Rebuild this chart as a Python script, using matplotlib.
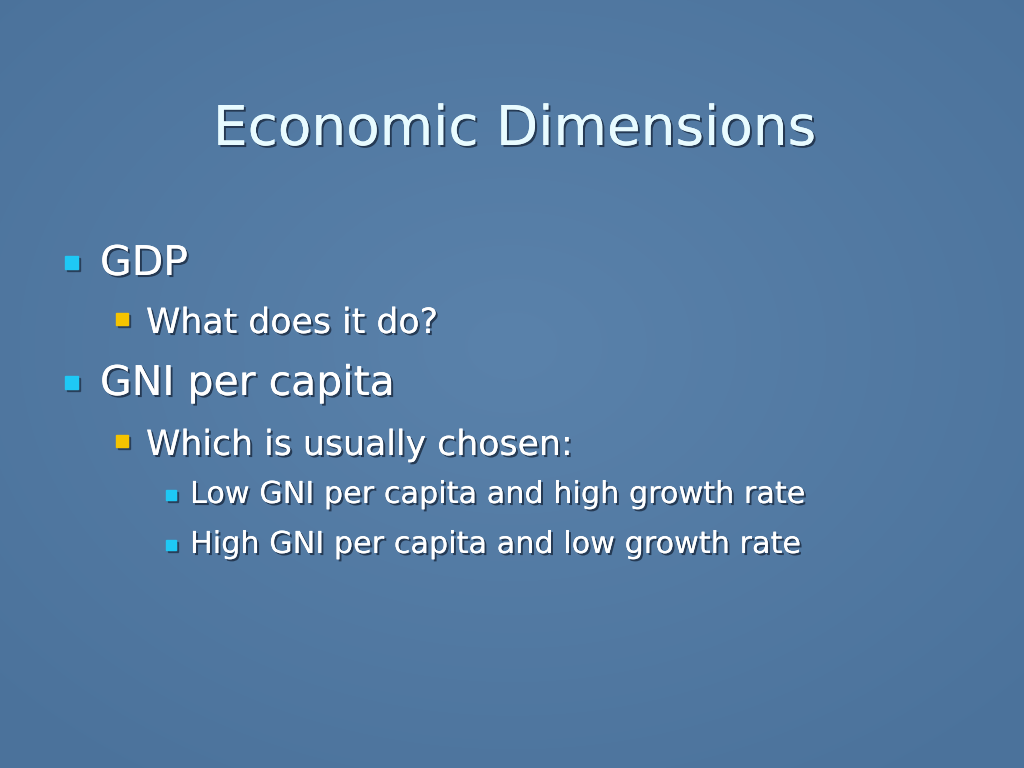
import numpy as np
import matplotlib.pyplot as plt
import matplotlib.patheffects as pe

W, H = 1024, 768

title = "Economic Dimensions"
# (level, text) for each bullet line
bullet_levels = [1, 2, 1, 2, 3, 3]
bullet_texts = [
    "GDP",
    "What does it do?",
    "GNI per capita",
    "Which is usually chosen:",
    "Low GNI per capita and high growth rate",
    "High GNI per capita and low growth rate",
]
bullet_baselines = [275, 333, 395, 455, 503, 553]

# per-level style: text x, font size, marker x, marker size, marker colour
text_x = {1: 100, 2: 146, 3: 190}
font_pt = {1: 29.5, 2: 25, 3: 21.8}
mark_x = {1: 65, 2: 116, 3: 166}
mark_size = {1: 13, 2: 12, 3: 10}
mark_color = {1: "#1ec8f5", 2: "#f5c400", 3: "#1ec8f5"}

fig = plt.figure(figsize=(W / 100, H / 100), dpi=100)
ax = fig.add_axes([0, 0, 1, 1])
ax.set_xlim(0, W)
ax.set_ylim(H, 0)
ax.axis("off")

# background: soft blue, a bit lighter towards the middle
yy, xx = np.mgrid[0:H, 0:W]
r = np.sqrt(((xx - W * 0.5) / W) ** 2 + ((yy - H * 0.45) / H) ** 2)
t = np.clip(r / 0.7, 0, 1)[..., None]
c_in = np.array([0x5a, 0x82, 0xab]) / 255
c_out = np.array([0x4b, 0x72, 0x9b]) / 255
bg = c_in * (1 - t) + c_out * t
ax.imshow(bg, extent=[0, W, H, 0], aspect="auto", zorder=0)

shadow = [pe.withSimplePatchShadow(offset=(1.5, -1.5), shadow_rgbFace="#1a2a40",
                                   alpha=0.8), pe.Normal()]

ax.text(213, 145, title, fontsize=39.5, color="#e8fbff", family="DejaVu Sans",
        va="baseline", ha="left", path_effects=shadow, zorder=3)

for lvl, txt, yb in zip(bullet_levels, bullet_texts, bullet_baselines):
    ax.text(text_x[lvl], yb, txt, fontsize=font_pt[lvl], color="white",
            family="DejaVu Sans", va="baseline", ha="left",
            path_effects=shadow, zorder=3)
    s = mark_size[lvl]
    ytop = yb - s - (6 if lvl == 1 else 8 if lvl == 2 else 3)
    ax.add_patch(plt.Rectangle((mark_x[lvl] + 1.5, ytop + 1.5), s, s,
                               color="#1a2a40", alpha=0.6, zorder=2))
    ax.add_patch(plt.Rectangle((mark_x[lvl], ytop), s, s,
                               color=mark_color[lvl], zorder=3))

fig.savefig("out.png", dpi=100)
